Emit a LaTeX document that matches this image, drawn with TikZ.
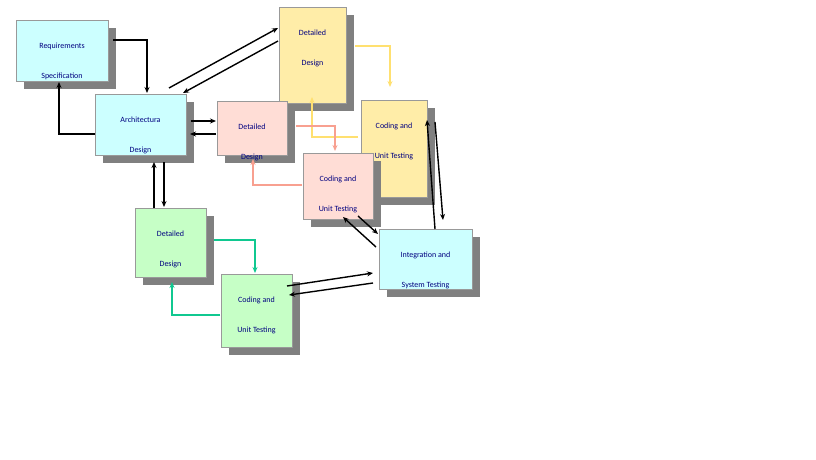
\documentclass[tikz,border=0pt]{standalone}
\usepackage{fontspec}
\setmainfont{Carlito}
\usetikzlibrary{arrows.meta}
\definecolor{cy}{HTML}{CCFFFF}
\definecolor{ye}{HTML}{FFEDA8}
\definecolor{pk}{HTML}{FFDDD6}
\definecolor{gr}{HTML}{C6FFC6}
\definecolor{tx}{HTML}{000080}
\definecolor{pkl}{HTML}{F8A090}
\definecolor{yel}{HTML}{FFE070}
\definecolor{grl}{HTML}{10C890}
\tikzset{
 bx/.style={draw=black!40,line width=0.6pt,inner sep=0pt},
 sh/.style={fill=black!50,draw=none},
 lb/.style={text=tx,font=\fontsize{8}{9}\selectfont,inner sep=0pt},
 ar/.style={-{Stealth[length=6pt,width=5pt]},line width=1.4pt},
}
\newcommand{\mybox}[8]{%
 \fill[sh] (#2+8,#3+8) rectangle (#4+8,#5+8);
 \node[bx,fill=#6,minimum width=#4-#2,minimum height=#5-#3,anchor=north west] (#1) at (#2,#3) {};
 \node[lb] (#1a) at ({(#2+#4)/2},#3+26) {#7};
 \node[lb] (#1b) at ({(#2+#4)/2},#3+56) {#8};
}
\begin{document}
\begin{tikzpicture}[x=1pt,y=-1pt]
\useasboundingbox (0,0) rectangle (816,460);
\mybox{req}{16}{20}{108}{81}{cy}{Requirements}{Specification}
\mybox{arch}{95}{94}{186}{155}{cy}{Architectura}{Design}
\mybox{ddy}{279}{7}{346}{103}{ye}{Detailed}{Design}
\mybox{ddp}{217}{101}{287}{155}{pk}{Detailed}{Design}
\mybox{cuy}{361}{100}{427}{197}{ye}{Coding and}{Unit Testing}
\mybox{cup}{303}{153}{373}{219}{pk}{Coding and}{Unit Testing}
\mybox{ddg}{135}{208}{206}{277}{gr}{Detailed}{Design}
\mybox{cug}{221}{274}{292}{347}{gr}{Coding and}{Unit Testing}
\mybox{int}{379}{229}{472}{289}{cy}{Integration and}{System Testing}
% black arrows
\coordinate (r1) at (113,40); \coordinate (r2) at (147,40);
\draw[ar] (r1) -- (r2) -- (147,93);
\coordinate (a1) at (95,134);
\draw[ar] (a1) -- (59,134) -- (59,82);
\draw[ar] (169,88) -- (278,28);
\draw[ar] (278,41) -- (183,93);
\draw[ar] (191,121) -- (216,121);
\draw[ar] (216,134) -- (190,134);
\draw[ar] (154,208) -- (154,162);
\draw[ar] (164,162) -- (164,207);
\draw[ar] (435,229) -- (427,120);
\draw[ar] (435,122) -- (443,220);
\draw[ar] (376,247) -- (343,217);
\draw[ar] (358,216) -- (378,234);
\draw[ar] (287,286) -- (373,273);
\draw[ar] (373,283) -- (289,295);
% coloured arrows
\draw[ar,yel,line width=1.2pt] (355,46) -- (390,46) -- (390,87);
\draw[ar,yel,line width=1.2pt] (358,137) -- (312,137) -- (312,97);
\draw[ar,pkl,line width=1.2pt] (296,126) -- (335,126) -- (335,151);
\draw[ar,pkl,line width=1.2pt] (302,185) -- (253,185) -- (253,159);
\draw[ar,grl,line width=1.2pt] (214,240) -- (255,240) -- (255,273);
\draw[ar,grl,line width=1.2pt] (220,315) -- (172,315) -- (172,282);
\end{tikzpicture}
\end{document}
